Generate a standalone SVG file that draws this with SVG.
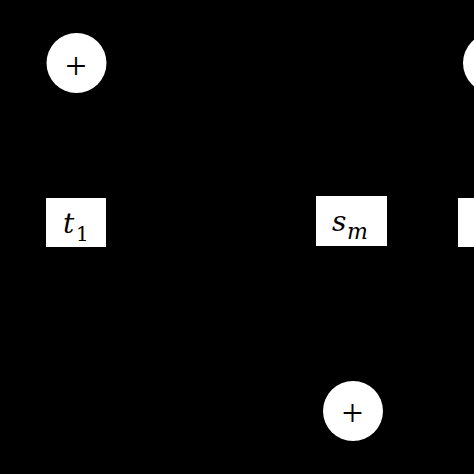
<svg xmlns="http://www.w3.org/2000/svg" width="474" height="474" viewBox="0 0 474 474">
<style>
.node{fill:#ffffff;stroke:none}
.plus{font-family:"Liberation Serif",serif;font-size:38px;fill:#000000;text-anchor:middle}
.lbl{font-family:"DejaVu Serif",serif;font-style:italic;font-size:28px;fill:#000000}
.sub{font-size:22px}
.subr{font-style:normal;font-size:20px}
</style>
<rect x="0" y="0" width="474" height="474" fill="#000000"/>
<g id="connectors"></g>
<g id="sum1">
<circle class="node" cx="76.5" cy="63" r="30"/>
<text class="plus" x="76" y="79">+</text>
</g>
<g id="sum2">
<circle class="node" cx="493" cy="63" r="30"/>
</g>
<g id="t1">
<rect class="node" x="46" y="198" width="60" height="49"/>
<text class="lbl" x="63" y="233">t<tspan class="subr" x="76" y="241">1</tspan></text>
</g>
<g id="sm">
<rect class="node" x="316" y="196" width="71" height="50"/>
<text class="lbl" x="332" y="231">s<tspan class="sub" x="347" y="239">m</tspan></text>
</g>
<g id="right">
<rect class="node" x="458" y="198" width="30" height="49"/>
</g>
<g id="sum3">
<circle class="node" cx="353" cy="411" r="30"/>
<text class="plus" x="352.5" y="426">+</text>
</g>
</svg>
